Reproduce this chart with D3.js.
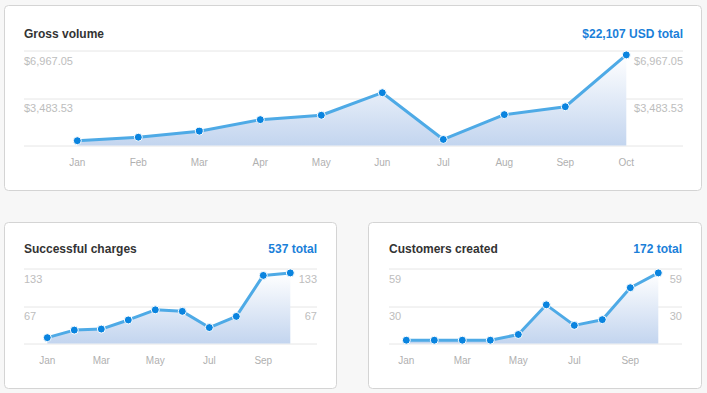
<!DOCTYPE html>
<html>
<head>
<meta charset="utf-8">
<script src="https://cdn.jsdelivr.net/npm/d3@7"></script>
<style>
  html, body { margin: 0; padding: 0; background: #f7f7f7; }
  svg { display: block; font-family: "Liberation Sans", Arial, Helvetica, sans-serif; }
  .title { font-size: 12px; font-weight: bold; fill: #333; }
  .total { font-size: 12px; font-weight: bold; fill: #1a80d9; }
  .ylab { font-size: 11px; fill: #bdbdbd; }
  .xlab { font-size: 10px; fill: #b0b0b0; }
</style>
</head>
<body>
<div id="chartCont"></div>
<script>
  // months shown on every chart
  let months = ["Jan", "Feb", "Mar", "Apr", "May", "Jun", "Jul", "Aug", "Sep", "Oct"];

  // values
  let grossVolume = [120, 400, 880, 1800, 2150, 3950, 220, 2200, 2830, 6967.05];
  let charges = [5, 20, 22, 40, 60, 57, 25, 47, 128, 133];
  let customers = [0, 0, 0, 0, 5, 31, 13, 18, 46, 59];

  let grossTicks = ["$6,967.05", "$3,483.53"];
  let chargeTicks = ["133", "67"];
  let customerTicks = ["59", "30"];

  let panels = [
    { title: "Gross volume", total: "$22,107 USD total", values: grossVolume, ticks: grossTicks,
      labelEvery: 1, box: [4.5, 5.5, 697, 185], inner: [24, 683], xr: [77.3, 626.3],
      titleY: 32.5, gridTop: 45, gridBot: 140, xlabY: 160 },
    { title: "Successful charges", total: "537 total", values: charges, ticks: chargeTicks,
      labelEvery: 2, box: [4.5, 222.5, 332, 166], inner: [24, 317], xr: [47.3, 290.3],
      titleY: 30.5, gridTop: 46, gridBot: 121, xlabY: 141 },
    { title: "Customers created", total: "172 total", values: customers, ticks: customerTicks,
      labelEvery: 2, box: [368.5, 222.5, 333, 166], inner: [389, 682], xr: [406.3, 658.3],
      titleY: 30.5, gridTop: 46, gridBot: 121, xlabY: 141 }
  ];

  let width = 707,
    height = 393;

  let svg = d3.select("#chartCont")
    .append("svg")
    .attr("width", width)
    .attr("height", height);

  let defs = svg.append("defs");

  let grad = defs.append("linearGradient")
    .attr("id", "areaFill")
    .attr("x1", 0).attr("y1", 0)
    .attr("x2", 0).attr("y2", 1);
  grad.append("stop").attr("offset", "0%").attr("stop-color", "#ffffff");
  grad.append("stop").attr("offset", "100%").attr("stop-color", "#c3d5ef");

  panels.forEach(function(p) {
    let bx = p.box[0], by = p.box[1];

    // card
    svg.append("rect")
      .attr("x", bx).attr("y", by)
      .attr("width", p.box[2]).attr("height", p.box[3])
      .attr("rx", 4)
      .attr("fill", "#fff")
      .attr("stroke", "#d4d4d4");

    let g = svg.append("g").attr("transform", "translate(0," + by + ")");

    g.append("text")
      .attr("class", "title")
      .attr("x", p.inner[0])
      .attr("y", p.titleY)
      .text(p.title);

    g.append("text")
      .attr("class", "total")
      .attr("x", p.inner[1])
      .attr("y", p.titleY)
      .attr("text-anchor", "end")
      .text(p.total);

    let x = d3.scalePoint().domain(months).range(p.xr);
    let maxVal = d3.max(p.values);
    // dots sit a little inside the grid
    let y = d3.scaleLinear().domain([0, maxVal]).range([p.gridBot - 3.3, p.gridTop + 4.4]);
    let grid = d3.scaleLinear().domain([0, 2]).range([p.gridBot, p.gridTop]);

    g.selectAll(".grid")
      .data([0, 1, 2])
      .enter().append("line")
      .attr("x1", p.inner[0]).attr("x2", p.inner[1])
      .attr("y1", function(d) { return Math.round(grid(d)) + 0.5; })
      .attr("y2", function(d) { return Math.round(grid(d)) + 0.5; })
      .attr("stroke", "#e6e6e6");

    // y labels both sides, just under their gridline
    [["start", p.inner[0]], ["end", p.inner[1]]].forEach(function(side) {
      g.selectAll(null)
        .data(p.ticks)
        .enter().append("text")
        .attr("class", "ylab")
        .attr("x", side[1])
        .attr("y", function(d, i) { return grid(2 - i) + 14; })
        .attr("text-anchor", side[0])
        .text(function(d) { return d; });
    });

    let pts = months.map(function(m, i) { return { m: m, v: p.values[i] }; });

    let area = d3.area()
      .x(function(d) { return x(d.m); })
      .y0(p.gridBot)
      .y1(function(d) { return y(d.v); });

    let line = d3.line()
      .x(function(d) { return x(d.m); })
      .y(function(d) { return y(d.v); });

    g.append("path")
      .datum(pts)
      .attr("d", area)
      .attr("fill", "url(#areaFill)");

    g.append("path")
      .datum(pts)
      .attr("d", line)
      .attr("fill", "none")
      .attr("stroke", "#4eaae6")
      .attr("stroke-width", 3)
      .attr("stroke-linejoin", "round");

    g.selectAll(".dot")
      .data(pts)
      .enter().append("circle")
      .attr("cx", function(d) { return x(d.m); })
      .attr("cy", function(d) { return y(d.v); })
      .attr("r", 4)
      .attr("fill", "#0a84df")
      .attr("stroke", "#fff")
      .attr("stroke-width", 1);

    g.selectAll(".xlab")
      .data(months.filter(function(d, i) { return i % p.labelEvery === 0; }))
      .enter().append("text")
      .attr("class", "xlab")
      .attr("x", function(d) { return x(d); })
      .attr("y", p.xlabY)
      .attr("text-anchor", "middle")
      .text(function(d) { return d; });
  });
</script>
</body>
</html>
